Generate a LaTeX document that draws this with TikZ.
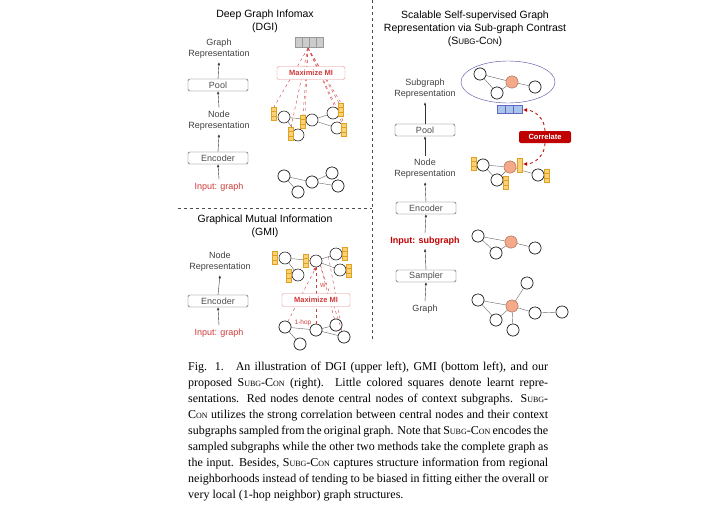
\documentclass[tikz,border=0pt]{standalone}
\usepackage{fontspec}
\setmainfont{Liberation Serif}
\newfontfamily\dsf{Liberation Sans}
\usetikzlibrary{arrows.meta}
\definecolor{mired}{HTML}{D03A3A}
\definecolor{dred}{HTML}{C00000}
\definecolor{yel}{HTML}{F9D27A}
\definecolor{yeld}{HTML}{E0A020}
\definecolor{orn}{HTML}{F4A98A}
\definecolor{blu}{HTML}{A9C6EA}
\newcommand{\sgc}{S{\footnotesize UBG}-C{\footnotesize ON}}
\tikzset{
 x=1pt,y=-1pt,
 lab/.style={font=\dsf\fontsize{9}{11}\selectfont,color=black!75,align=center},
 ttl/.style={font=\dsf\fontsize{10.5}{13}\selectfont,align=center},
 box/.style={draw=black!70,rounded corners=1.5pt,minimum width=60pt,minimum height=12pt,inner sep=0pt,font=\dsf\fontsize{9}{10}\selectfont,text=black!70},
 up/.style={-{Latex[length=3pt,width=2.5pt]},black!80,thin},
 gn/.style={circle,draw=black!85,fill=white,minimum size=12pt,inner sep=0pt,line width=0.6pt},
 rn/.style={gn,fill=orn,draw=orn!80!black},
 ge/.style={black!60,thin},
 dsh/.style={mired,dashed,thin},
 mi/.style={draw=mired!60,fill=white,rounded corners=2pt,text=mired,font=\dsf\bfseries\fontsize{7.5}{9}\selectfont,minimum width=68pt,minimum height=13pt,inner sep=0pt},
 yv/.pic={\foreach \i in {0,1,2}\draw[draw=yeld,fill=yel,line width=0.3pt] (-2.5,\i*4.5) rectangle (2.5,\i*4.5+4.5);},
 cl/.style={font=\fontsize{12}{14}\selectfont,anchor=base west,inner sep=0pt}
}
\begin{document}
\begin{tikzpicture}
\useasboundingbox (0,0) rectangle (720,509);
% separators
\draw[black!70,dashed,line width=1pt] (178,208) -- (372,208);
\draw[black!70,dashed,line width=1pt] (372,0) -- (372,340);
% ---------------- DGI
\node[ttl] (t1) at (265,21) {Deep Graph Infomax\\(DGI)};
\node[lab] (gr1) at (219,49) {Graph\\Representation};
\node[box] (pool1) at (218,85) {Pool};
\node[lab] (nr1) at (219,121) {Node\\Representation};
\node[box] (enc1) at (218,158) {Encoder};
\node[lab,text=mired] (in1) at (219,187) {Input: graph};
\draw[up] (in1.north) -- (enc1.south);
\draw[up] (enc1.north) -- (nr1.south);
\draw[up] (nr1.north) -- (pool1.south);
\draw[up] (pool1.north) -- (gr1.south);
% grey vector
\foreach \i in {0,1,2,3}\draw[black!40,fill=black!20,line width=0.3pt] (295+\i*7,37) rectangle (302+\i*7,47);
\coordinate (gv) at (308,48);
\coordinate (y1) at (274,107);\coordinate (y2) at (291,127);\coordinate (y3) at (303,115);\coordinate (y4) at (341,103);\coordinate (y5) at (344,123);
\foreach \c in {y1,y2,y3,y4,y5}{\draw[dsh] (gv) -- (\c);}
\draw[dsh] (gv) -- ([xshift=2]y3); \draw[dsh] (gv) -- ([xshift=-2]y4);\draw[dsh] (gv) -- ([xshift=-2]y5);
\node[mi] (mi1) at (311,73) {Maximize MI};
\node[gn] (a1) at (284,117) {};\node[gn] (a2) at (298,135) {};\node[gn] (a3) at (312,120) {};\node[gn] (a4) at (333,113) {};\node[gn] (a5) at (337,128) {};
\draw[ge] (a1)--(a3);\draw[ge] (a1)--(a2);\draw[ge] (a3)--(a4);\draw[ge] (a3)--(a5);
\pic at (y1) {yv};\pic at (y2) {yv};\pic at (y3) {yv};\pic at (y4) {yv};\pic at (y5) {yv};
\node[gn] (b1) at (284,176) {};\node[gn] (b2) at (298,192) {};\node[gn] (b3) at (312,182) {};\node[gn] (b4) at (332,173) {};\node[gn] (b5) at (338,186) {};
\draw[ge] (b1)--(b3);\draw[ge] (b1)--(b2);\draw[ge] (b3)--(b4);\draw[ge] (b3)--(b5);
\foreach \n in {b1,b2,b3,b4,b5}\node[gn] at (\n) {};
% ---------------- GMI
\node[ttl] (t2) at (265,226) {Graphical Mutual Information\\(GMI)};
\node[lab] (nr2) at (220,262) {Node\\Representation};
\node[box] (enc2) at (218,301) {Encoder};
\node[lab,text=mired] (in2) at (219,333) {Input: graph};
\draw[up] (in2.north) -- (enc2.south);
\draw[up] (enc2.north) -- (nr2.south);
\node[gn] (c1) at (285,258) {};\node[gn] (c2) at (298,275) {};\node[gn] (c3) at (316,261) {};\node[gn] (c4) at (336,254) {};\node[gn] (c5) at (340,270) {};
\draw[ge] (c1)--(c3);\draw[ge] (c1)--(c2);\draw[ge] (c3)--(c4);\draw[ge] (c3)--(c5);
\node[gn] (d1) at (285,327) {};\node[gn] (d2) at (300,344) {};\node[gn] (d3) at (316,330) {};\node[gn] (d4) at (336,325) {};\node[gn] (d5) at (344,337) {};
\draw[ge] (d1)--(d3);\draw[ge] (d1)--(d2);\draw[ge] (d3)--(d4);\draw[ge] (d3)--(d5);
\foreach \n in {d1,d2,d3,d4,d5}\node[gn] at (\n) {};
\draw[dsh,-{Latex[length=3pt,width=3pt]}] (d1) -- (c3.south);
\draw[dsh] (d3) -- (c3.south);
\draw[dsh] (d4) -- (c3.south east);
\draw[dsh] (d5) -- (c3.south east);
\draw[dsh] ([xshift=4]d4.north) -- ([xshift=8]c3.north east);
\node[mi] (mi2) at (316,300) {Maximize MI};
\node[font=\dsf\fontsize{6.5}{8}\selectfont,text=mired,inner sep=1pt] (hop) at (303,323) {1-hop};
\node[font=\dsf\fontsize{6}{7}\selectfont,text=mired,inner sep=0pt] (w) at (323,285) {W};
\pic at (275,251) {yv};\pic at (306,254) {yv};\pic at (289,269) {yv};\pic at (345,247) {yv};\pic at (349,264) {yv};
% ---------------- Subg-Con
\node[ttl] (t3) at (475,29) {Scalable Self-supervised Graph\\Representation via Sub-graph Contrast\\(S{\fontsize{8}{9}\selectfont UBG}-C{\fontsize{8}{9}\selectfont ON})};
\node[lab] (sr) at (425,89) {Subgraph\\Representation};
\node[box] (pool3) at (425,130) {Pool};
\node[lab] (nr3) at (425,169) {Node\\Representation};
\node[box] (enc3) at (426,208) {Encoder};
\node[lab,text=dred,font=\dsf\bfseries\fontsize{9}{10}\selectfont] (in3) at (425,241) {Input: subgraph};
\node[box] (samp) at (426,276) {Sampler};
\node[lab] (g3) at (425,309) {Graph};
\draw[up] (g3.north) -- (samp.south);
\draw[up] (samp.north) -- (in3.south);
\draw[up] (in3.north) -- (enc3.south);
\draw[up] (enc3.north) -- (nr3.south);
\draw[up] (nr3.north) -- (pool3.south);
\draw[up] (pool3.north) -- (sr.south);
% ellipse graph
\draw[draw=blue!50!black!70,thin] (508,82) ellipse (47 and 21);
\node[gn] (e1) at (480,74) {};\node[rn] (e2) at (512,82) {};\node[gn] (e3) at (497,93) {};\node[gn] (e4) at (535,87) {};
\draw[ge] (e1)--(e2);\draw[ge] (e1)--(e3);\draw[ge] (e3)--(e2);\draw[ge] (e2)--(e4);
\foreach \n in {e1,e3,e4}\node[gn] at (\n) {};\node[rn] at (e2) {};
\foreach \i in {0,1,2}\draw[draw=blue!60!black!60,fill=blu,line width=0.3pt] (497+\i*8.3,105) rectangle (505.3+\i*8.3,113);
\coordinate (bv) at (523,110);
\node[fill=dred,rounded corners=2pt,text=white,font=\dsf\bfseries\fontsize{7.5}{9}\selectfont,minimum width=52pt,minimum height=12pt,inner sep=0pt] (cor) at (545,137) {Correlate};
\draw[dred,dashed,thick,-{Latex[length=4pt,width=4pt]}] (cor.north) to[out=90,in=0] (bv);
% node rep graph
\node[gn] (f1) at (483,165) {};\node[rn] (f2) at (510,167) {};\node[gn] (f3) at (497,180) {};\node[gn] (f4) at (538,175) {};
\draw[ge] (f1)--(f2);\draw[ge] (f1)--(f3);\draw[ge] (f3)--(f2);\draw[ge] (f2)--(f4);
\foreach \n in {f1,f3,f4}\node[gn] at (\n) {};\node[rn] at (f2) {};
\pic at (474,157) {yv};\pic at (506,176) {yv};\pic at (547,169) {yv};
\draw[draw=yeld,fill=yel,line width=0.3pt] (517,158) rectangle (522,172);
\coordinate (yv2) at (523,164);
\draw[dred,dashed,thick,-{Latex[length=4pt,width=4pt]}] (cor.south) to[out=-90,in=0] (yv2);
% input subgraph
\node[gn] (h1) at (478,236) {};\node[rn] (h2) at (511,242) {};\node[gn] (h3) at (496,253) {};\node[gn] (h4) at (535,248) {};
\draw[ge] (h1)--(h2);\draw[ge] (h1)--(h3);\draw[ge] (h3)--(h2);\draw[ge] (h2)--(h4);
\foreach \n in {h1,h3,h4}\node[gn] at (\n) {};\node[rn] at (h2) {};
% full graph
\node[gn] (k1) at (478,300) {};\node[rn] (k2) at (512,306) {};\node[gn] (k3) at (496,320) {};\node[gn] (k4) at (535,313) {};\node[gn] (k5) at (562,312) {};\node[gn] (k6) at (527,283) {};\node[gn] (k7) at (513,330) {};
\draw[ge] (k1)--(k2);\draw[ge] (k1)--(k3);\draw[ge] (k3)--(k2);\draw[ge] (k2)--(k4);\draw[ge] (k4)--(k5);\draw[ge] (k2)--(k6);\draw[ge] (k2)--(k7);
\foreach \n in {k1,k3,k4,k5,k6,k7}\node[gn] at (\n) {};\node[rn] at (k2) {};
% ---------------- caption
\node[cl] (l1) at (188,370) {\makebox[360pt][s]{Fig. 1.\quad An illustration of DGI (upper left), GMI (bottom left), and our}};
\node[cl] (l2) at (188,386) {\makebox[360pt][s]{proposed \sgc{} (right). Little colored squares denote learnt repre-}};
\node[cl] (l3) at (188,402) {\makebox[360pt][s]{sentations. Red nodes denote central nodes of context subgraphs. S{\footnotesize UBG}-}};
\node[cl] (l4) at (188,418) {\makebox[360pt][s]{C{\footnotesize ON} utilizes the strong correlation between central nodes and their context}};
\node[cl] (l5) at (188,434) {\makebox[360pt][s]{subgraphs sampled from the original graph. Note that \sgc{} encodes the}};
\node[cl] (l6) at (188,450) {\makebox[360pt][s]{sampled subgraphs while the other two methods take the complete graph as}};
\node[cl] (l7) at (188,466) {\makebox[360pt][s]{the input. Besides, \sgc{} captures structure information from regional}};
\node[cl] (l8) at (188,482) {\makebox[360pt][s]{neighborhoods instead of tending to be biased in fitting either the overall or}};
\node[cl] (l9) at (188,498) {very local (1-hop neighbor) graph structures.};
\end{tikzpicture}
\end{document}
